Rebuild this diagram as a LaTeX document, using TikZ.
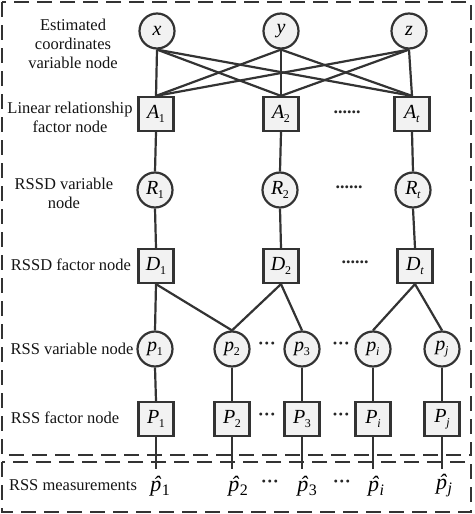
\documentclass[tikz,border=0pt]{standalone}
\usepackage{fontspec}
\setmainfont{Liberation Serif}
\newcommand\nsub[2]{\textit{#1}\kern-0.3pt\raisebox{-0.45ex}{\fontsize{12}{12}\selectfont #2}}
\newcommand\nhat[1]{\textit{p}\llap{\makebox[0.5em][c]{\kern0.14em\textit{\char"02C6}}}\kern0.5pt\raisebox{-0.4ex}{\fontsize{16}{16}\selectfont #1}}
\begin{document}
\begin{tikzpicture}[x=1pt,y=-1pt,
  every node/.style={font=\fontsize{16.5}{19}\selectfont},
  edge/.style={draw=black!80,line width=2.2pt},
  var/.style={circle,draw=black!80,line width=2.2pt,fill=black!5,minimum size=35pt,inner sep=0pt,font=\fontsize{20}{20}\selectfont},
  fac/.style={rectangle,draw=black!80,line width=2.2pt,fill=black!5,minimum width=35pt,minimum height=34pt,inner sep=0pt,font=\fontsize{20}{20}\selectfont},
  meas/.style={inner sep=0pt,font=\fontsize{22}{22}\selectfont},
  lbl/.style={align=center,inner sep=0pt,text=black!92},
  dots/.style={inner sep=0pt,font=\bfseries\fontsize{18}{18}\selectfont,text=black!85},
  frame/.style={draw=black!80,line width=2.8pt,dash pattern=on 15pt off 8pt}]
\useasboundingbox (0,0) rectangle (474,514);
\draw[frame] (2,2) rectangle (471,455);
\draw[frame] (2,462) rectangle (471,512);
% labels
\node[lbl] (l1) at (73,44) {Estimated\\coordinates\\variable node};
\node[lbl] (l2) at (70,117) {Linear relationship\\factor node};
\node[lbl] (l3) at (64,193) {RSSD variable\\node};
\node[lbl] (l4) at (71,265) {RSSD factor node};
\node[lbl] (l5) at (72,349) {RSS variable node};
\node[lbl] (l6) at (65,418) {RSS factor node};
\node[lbl] (l7) at (73,485) {RSS measurements};
% top variables
\node[var] (x) at (157,31) {\textit{x}};
\node[var] (y) at (281,31) {\textit{y}};
\node[var] (z) at (409,31) {\textit{z}};
% A factors
\node[fac] (A1) at (156,114) {\nsub{A}{1}};
\node[fac] (A2) at (281,114) {\nsub{A}{2}};
\node[fac] (At) at (412,114) {\nsub{A}{\textit{t}}};
\node[dots] (dA) at (347,112) {......};
% R variables
\node[var] (R1) at (155,190) {\nsub{R}{1}};
\node[var] (R2) at (280,190) {\nsub{R}{2}};
\node[var] (Rt) at (413,190) {\nsub{R}{\textit{t}}};
\node[dots] (dR) at (349,187) {......};
% D factors
\node[fac] (D1) at (156,266) {\nsub{D}{1}};
\node[fac] (D2) at (281,266) {\nsub{D}{2}};
\node[fac] (Dt) at (415,266) {\nsub{D}{\textit{t}}};
\node[dots] (dD) at (355,262) {......};
% p variables
\node[var] (p1) at (155,349) {\nsub{p}{1}};
\node[var] (p2) at (232,349) {\nsub{p}{2}};
\node[var] (p3) at (302,349) {\nsub{p}{3}};
\node[var] (pi) at (373,349) {\nsub{p}{\textit{i}}};
\node[var] (pj) at (442,349) {\nsub{p}{\textit{j}}};
\node[dots] (dp1) at (267,346) {···};
\node[dots] (dp2) at (341,346) {···};
% P factors
\node[fac] (P1) at (156,419) {\nsub{P}{1}};
\node[fac] (P2) at (232,419) {\nsub{P}{2}};
\node[fac] (P3) at (302,419) {\nsub{P}{3}};
\node[fac] (Pi) at (373,419) {\nsub{P}{\textit{i}}};
\node[fac] (Pj) at (442,419) {\nsub{P}{\textit{j}}};
\node[dots] (dP1) at (267,417) {···};
\node[dots] (dP2) at (341,417) {···};
% measurement ends
\coordinate (m1) at (156,469);
\coordinate (m2) at (232,469);
\coordinate (m3) at (302,469);
\coordinate (mi) at (373,469);
\coordinate (mj) at (442,469);
\node[meas] (h1) at (160,486) {\nhat{1}};
\node[meas] (h2) at (238,486) {\nhat{2}};
\node[meas] (h3) at (307,486) {\nhat{3}};
\node[meas] (hi) at (376,486) {\nhat{\textit{i}}};
\node[meas] (hj) at (444,486) {\nhat{\textit{j}}};
\node[dots] (dh1) at (270,484) {···};
\node[dots] (dh2) at (342,484) {···};
% edges
\foreach \a/\b in {x/A1,x/A2,x/At,y/A1,y/A2,y/At,z/A1,z/A2,z/At}
  \draw[edge] (\a.south) -- (\b.north);
\foreach \a/\b in {A1/R1,A2/R2,At/Rt,R1/D1,R2/D2,Rt/Dt,
  D1/p1,D1/p2,D2/p2,D2/p3,Dt/pi,Dt/pj,
  p1/P1,p2/P2,p3/P3,pi/Pi,pj/Pj}
  \draw[edge] (\a.south) -- (\b.north);
\draw[edge] (P1.south) -- (m1);
\draw[edge] (P2.south) -- (m2);
\draw[edge] (P3.south) -- (m3);
\draw[edge] (Pi.south) -- (mi);
\draw[edge] (Pj.south) -- (mj);
\end{tikzpicture}
\end{document}
